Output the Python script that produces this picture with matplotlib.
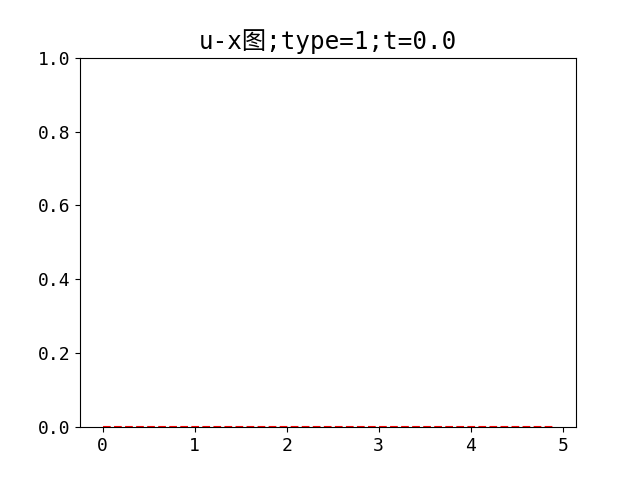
import matplotlib
matplotlib.use("Agg")
import matplotlib.pyplot as plt

plt.rcParams['font.family'] = ['DejaVu Sans Mono', 'Noto Sans CJK SC']
plt.rcParams['axes.unicode_minus'] = False

x_values = [0.0, 0.1, 0.2, 0.3, 0.4, 0.5, 0.6, 0.7, 0.8, 0.9,
            1.0, 1.1, 1.2, 1.3, 1.4, 1.5, 1.6, 1.7, 1.8, 1.9,
            2.0, 2.1, 2.2, 2.3, 2.4, 2.5, 2.6, 2.7, 2.8, 2.9,
            3.0, 3.1, 3.2, 3.3, 3.4, 3.5, 3.6, 3.7, 3.8, 3.9,
            4.0, 4.1, 4.2, 4.3, 4.4, 4.5, 4.6, 4.7, 4.8, 4.9]
u_values = [0.0, 0.0, 0.0, 0.0, 0.0, 0.0, 0.0, 0.0, 0.0, 0.0,
            0.0, 0.0, 0.0, 0.0, 0.0, 0.0, 0.0, 0.0, 0.0, 0.0,
            0.0, 0.0, 0.0, 0.0, 0.0, 0.0, 0.0, 0.0, 0.0, 0.0,
            0.0, 0.0, 0.0, 0.0, 0.0, 0.0, 0.0, 0.0, 0.0, 0.0,
            0.0, 0.0, 0.0, 0.0, 0.0, 0.0, 0.0, 0.0, 0.0, 0.0]
title_text = "u-x图;type=1;t=0.0"

fig, ax = plt.subplots(figsize=(6.4, 4.8), dpi=100)
ax.plot(x_values, u_values, 'r--')
ax.set_ylim(0, 1)
ax.set_title(title_text, fontsize=17.5)
ax.tick_params(labelsize=13)
fig.savefig("out.png")
